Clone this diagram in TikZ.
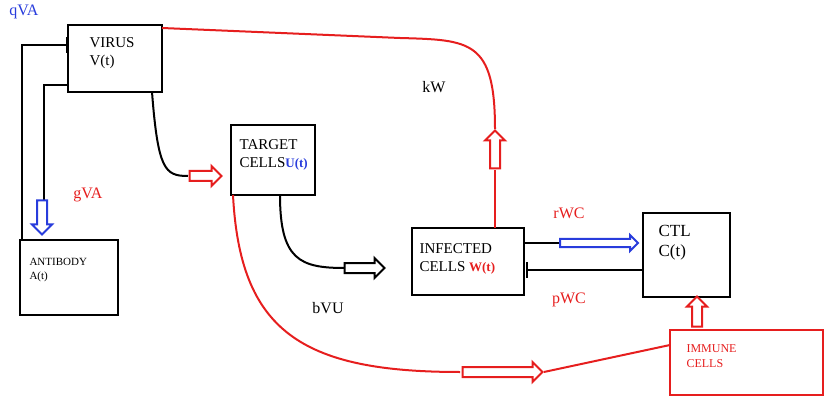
\documentclass[tikz,border=0pt]{standalone}
\usepackage{fontspec}
\setmainfont{Liberation Serif}
\usetikzlibrary{shapes.arrows,arrows.meta}
\definecolor{myred}{RGB}{230,30,30}
\definecolor{myblue}{RGB}{40,60,220}
\begin{document}
\begin{tikzpicture}[x=1pt,y=-1pt,
  harrow/.style={single arrow,draw=#1,line width=2pt,fill=white,minimum height=34pt,single arrow head extend=5pt,inner xsep=0pt,inner ysep=4pt,single arrow head indent=0pt},
  lbl/.style={font=\fontsize{16}{18}\selectfont},
  bl/.style={line width=2pt},
  rl/.style={line width=2pt,myred}]
\useasboundingbox (0,0) rectangle (829,403);
% boxes
\draw[bl] (68,25) rectangle (162,92);
\node[anchor=north west,font=\fontsize{15}{18}\selectfont,align=left] (virus) at (86,34) {VIRUS\\V(t)};
\draw[bl] (231,125) rectangle (315,195);
\node[anchor=north west,font=\fontsize{15}{18}\selectfont,align=left] (target) at (236,136) {TARGET\\CELLS{\color{myblue}\fontsize{13}{14}\selectfont\bfseries U(t)}};
\draw[bl] (20,240) rectangle (118,315);
\node[anchor=north west,font=\fontsize{11}{14}\selectfont,align=left] (anti) at (26,255) {ANTIBODY\\A(t)};
\draw[bl] (412,228) rectangle (524,295);
\node[anchor=north west,font=\fontsize{15}{18}\selectfont,align=left] (inf) at (416,240) {INFECTED\\CELLS {\color{myred}\fontsize{13}{14}\selectfont\bfseries W(t)}};
\draw[bl] (643,213) rectangle (730,297);
\node[anchor=north west,font=\fontsize{17}{20}\selectfont,align=left] (ctl) at (655,222) {CTL\\C(t)};
\draw[rl,line width=1.5pt] (670,330) rectangle (823,395);
\node[anchor=north west,font=\fontsize{12}{15}\selectfont,align=left,text=myred] (imm) at (683,341) {IMMUNE\\CELLS};
% labels
\node[lbl,text=myblue] (q) at (24,12) {qVA};
\node[lbl,text=myred] (g) at (88,195) {gVA};
\node[lbl] (k) at (434,87) {kW};
\node[lbl,text=myred] (r) at (569,213) {rWC};
\node[lbl,text=myred] (p) at (569,300) {pWC};
\node[lbl] (b) at (328,308) {bVU};
% antibody -> virus inhibition
\coordinate (a1) at (22,240); \coordinate (v1) at (67,45);
\draw[bl] (a1) |- (v1);
\draw[bl] (67,37) -- (67,53);
% virus -> antibody
\coordinate (v2) at (68,85);
\draw[bl] (v2) -| (44,200);
\node[harrow=myblue,rotate=-90] (ar1) at (42,215) {};
% virus -> target
\coordinate (v3) at (152,92);
\draw[bl] (v3) .. controls (158,170) and (165,176) .. (188,176);
\node[harrow=myred,minimum height=32pt] (ar2) at (203,176) {};
% infected -> virus (kW)
\coordinate (i1) at (495,228); \coordinate (v4) at (162,28);
\node[harrow=myred,rotate=90,minimum height=38pt] (ar3) at (495,152) {};
\draw[rl] (i1) -- (ar3.west);
\draw[rl] (ar3.east) .. controls (495,40) and (470,40) .. (400,38) -- (v4);
% target -> infected
\coordinate (t1) at (280,195);
\draw[bl] (t1) .. controls (280,260) and (300,268) .. (345,268);
\node[harrow=black,minimum height=40pt] (ar4) at (362,268) {};
% target -> immune (bVU)
\coordinate (t2) at (233,195); \coordinate (im1) at (670,345);
\draw[rl] (t2) .. controls (240,330) and (300,372) .. (460,372);
\node[harrow=myred,minimum height=80pt] (ar5) at (500,372) {};
\draw[rl] (ar5.east) -- (im1);
% infected -> CTL (rWC)
\coordinate (i2) at (524,243);
\node[harrow=myblue,minimum height=78pt,inner ysep=3pt,single arrow head extend=4pt] (ar6) at (597,243) {};
\draw[bl] (i2) -- (ar6.west);
% CTL -| infected (pWC)
\coordinate (c1) at (643,270); \coordinate (i3) at (527,270);
\draw[bl] (c1) -- (i3);
\draw[bl] (527,262) -- (527,278);
% immune -> CTL
\node[harrow=myred,rotate=90,minimum height=30pt] (ar7) at (697,314) {};
\end{tikzpicture}
\end{document}
